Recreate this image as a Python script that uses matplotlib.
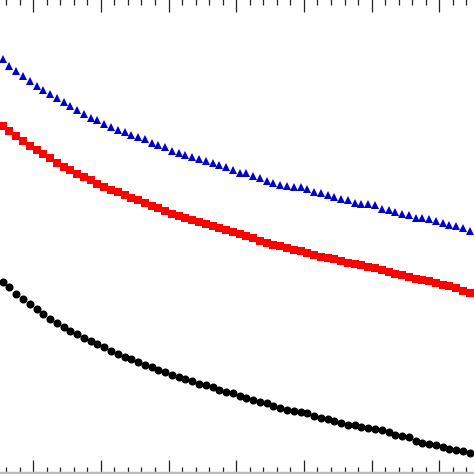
import numpy as np
import matplotlib
matplotlib.use("Agg")
import matplotlib.pyplot as plt
from matplotlib.ticker import MultipleLocator

# x positions of the samples (one per step)
x_vals = np.arange(5.5, 75.5, 1.0)

# series values
blue_vals = [4.14, 4.07, 4.02, 3.97, 3.92, 3.87, 3.83, 3.79, 3.75, 3.71,
             3.67, 3.63, 3.59, 3.55, 3.53, 3.49, 3.46, 3.43, 3.41, 3.38,
             3.36, 3.34, 3.30, 3.28, 3.26, 3.22, 3.20, 3.18, 3.16, 3.14,
             3.12, 3.10, 3.08, 3.06, 3.03, 3.00, 3.00, 2.97, 2.95, 2.92,
             2.90, 2.88, 2.87, 2.86, 2.86, 2.84, 2.81, 2.80, 2.78, 2.76,
             2.74, 2.73, 2.70, 2.69, 2.69, 2.68, 2.64, 2.63, 2.61, 2.59,
             2.58, 2.55, 2.55, 2.54, 2.52, 2.50, 2.48, 2.47, 2.45, 2.42]

red_vals = [3.47, 3.42, 3.37, 3.32, 3.27, 3.23, 3.19, 3.15, 3.10, 3.06,
            3.03, 2.99, 2.96, 2.93, 2.89, 2.86, 2.83, 2.81, 2.78, 2.75,
            2.73, 2.70, 2.67, 2.65, 2.62, 2.59, 2.57, 2.55, 2.53, 2.51,
            2.49, 2.47, 2.45, 2.43, 2.41, 2.39, 2.37, 2.35, 2.32, 2.30,
            2.28, 2.27, 2.25, 2.23, 2.22, 2.20, 2.18, 2.16, 2.15, 2.14,
            2.12, 2.10, 2.09, 2.08, 2.06, 2.05, 2.03, 2.01, 1.99, 1.98,
            1.96, 1.94, 1.93, 1.92, 1.90, 1.88, 1.87, 1.85, 1.82, 1.80]

black_vals = [1.91, 1.86, 1.79, 1.74, 1.69, 1.64, 1.59, 1.54, 1.50, 1.46,
              1.42, 1.39, 1.35, 1.32, 1.29, 1.26, 1.22, 1.19, 1.16, 1.14,
              1.11, 1.08, 1.06, 1.03, 1.01, 0.98, 0.96, 0.94, 0.92, 0.89,
              0.88, 0.86, 0.83, 0.81, 0.80, 0.77, 0.75, 0.73, 0.71, 0.70,
              0.67, 0.65, 0.63, 0.62, 0.61, 0.60, 0.57, 0.55, 0.54, 0.52,
              0.50, 0.48, 0.48, 0.46, 0.45, 0.44, 0.43, 0.41, 0.38, 0.37,
              0.36, 0.32, 0.30, 0.29, 0.28, 0.26, 0.24, 0.23, 0.22, 0.20]

fig = plt.figure(figsize=(4.74, 4.74), dpi=100)
ax = fig.add_axes([0, 0.003, 1, 0.999])

ax.plot(x_vals, blue_vals, linestyle='none', marker='^', markersize=5.4,
        color='#0000cc', markeredgewidth=0)
ax.plot(x_vals, red_vals, linestyle='none', marker='s', markersize=5.3,
        color='#ff0000', markeredgewidth=0)
ax.plot(x_vals, black_vals, linestyle='none', marker='o', markersize=5.8,
        color='#000000', markeredgewidth=0)

ax.set_xlim(5.1, 75.12)
ax.set_ylim(0, 4.74)

ax.xaxis.set_major_locator(MultipleLocator(10))
ax.xaxis.set_minor_locator(MultipleLocator(2))
ax.tick_params(axis='x', which='both', direction='in', top=True, bottom=True,
               labelbottom=False, labeltop=False, color='#222222')
ax.tick_params(axis='x', which='major', length=9.5, width=0.9)
ax.tick_params(axis='x', which='minor', length=4.5, width=0.9)
ax.tick_params(axis='y', which='both', left=False, right=False,
               labelleft=False)

for side in ['left', 'right', 'top']:
    ax.spines[side].set_visible(False)
ax.spines['bottom'].set_color('#bdbdbd')
ax.spines['bottom'].set_linewidth(2.5)

fig.savefig('out.png', dpi=100)
